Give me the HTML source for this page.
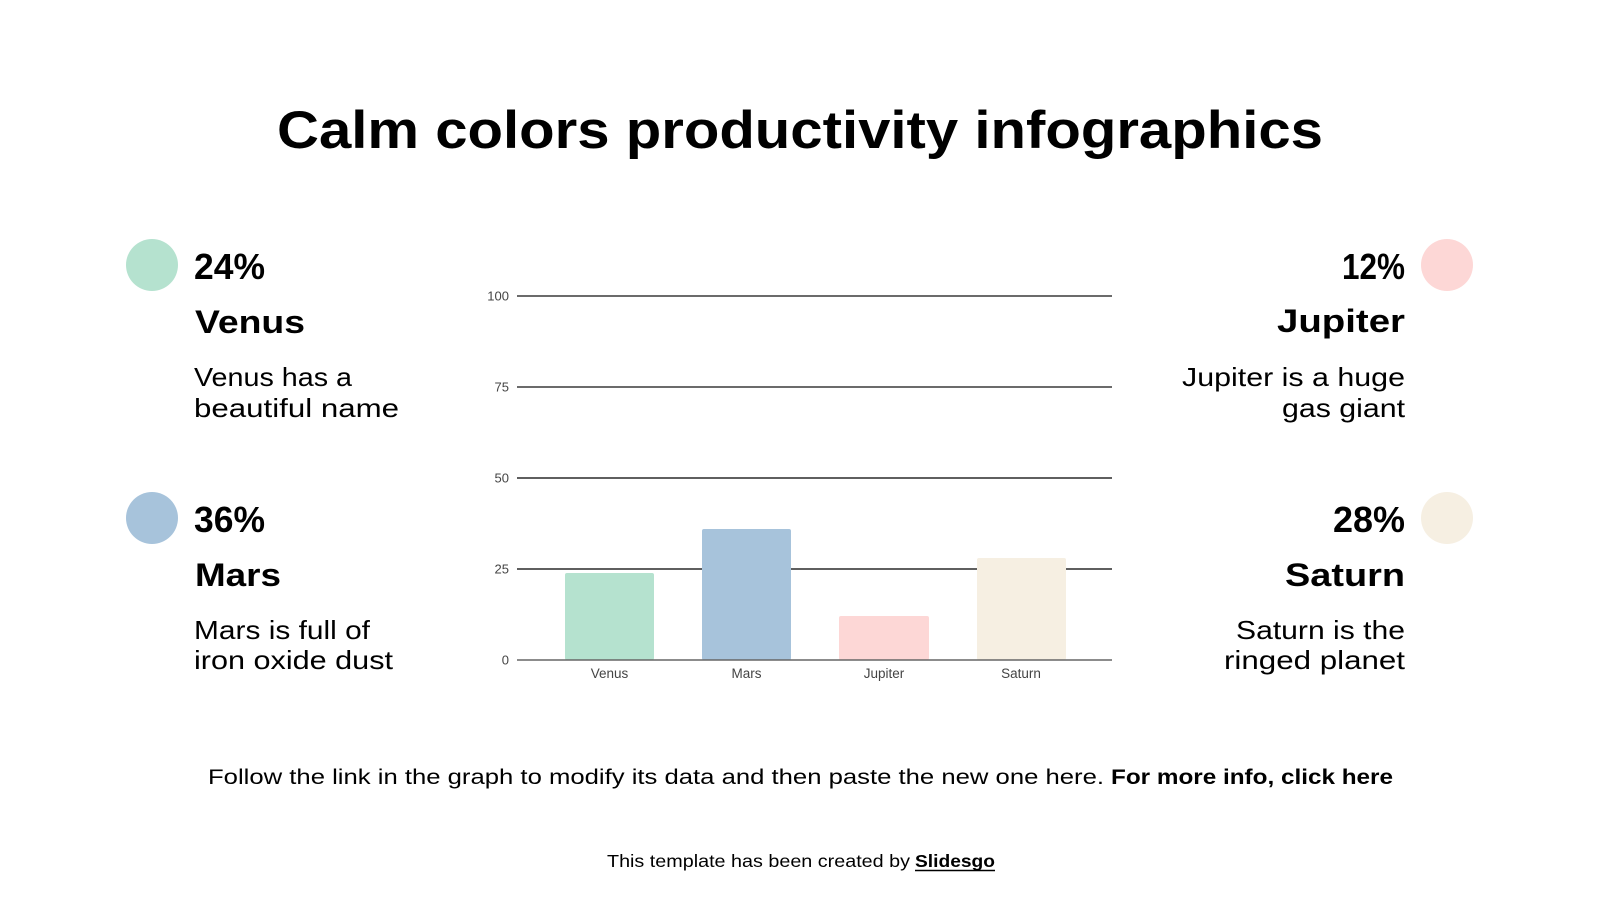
<!DOCTYPE html>
<html>
<head>
<meta charset="utf-8">
<style>
  html, body { margin: 0; padding: 0; background: #ffffff; }
  body { width: 1600px; height: 900px; overflow: hidden; }
  svg { display: block; }
  text { font-family: "Liberation Sans", "DejaVu Sans", sans-serif; }
</style>
</head>
<body>
<svg width="1600" height="900" viewBox="0 0 1600 900" xmlns="http://www.w3.org/2000/svg">
  <rect x="0" y="0" width="1600" height="900" fill="#ffffff"/>

  <!-- Title -->
  <text x="277" y="148" font-size="53" font-weight="bold" fill="#000" textLength="1046" lengthAdjust="spacingAndGlyphs">Calm colors productivity infographics</text>

  <!-- Left circles -->
  <circle cx="152" cy="265" r="26" fill="#b5e2cf"/>
  <circle cx="152" cy="518" r="26" fill="#a7c3db"/>
  <!-- Right circles -->
  <circle cx="1447" cy="265" r="26" fill="#fdd7d6"/>
  <circle cx="1447" cy="518" r="26" fill="#f6efe2"/>

  <!-- Venus block -->
  <text x="194" y="279" font-size="36" font-weight="bold" fill="#000" textLength="71" lengthAdjust="spacingAndGlyphs">24%</text>
  <text x="195" y="333" font-size="32" font-weight="bold" fill="#000" textLength="110" lengthAdjust="spacingAndGlyphs">Venus</text>
  <text x="194" y="386" font-size="26" fill="#000" textLength="158" lengthAdjust="spacingAndGlyphs">Venus has a</text>
  <text x="194" y="417" font-size="26" fill="#000" textLength="205" lengthAdjust="spacingAndGlyphs">beautiful name</text>

  <!-- Mars block -->
  <text x="194" y="532" font-size="36" font-weight="bold" fill="#000" textLength="71" lengthAdjust="spacingAndGlyphs">36%</text>
  <text x="195" y="586" font-size="32" font-weight="bold" fill="#000" textLength="86" lengthAdjust="spacingAndGlyphs">Mars</text>
  <text x="194" y="639" font-size="26" fill="#000" textLength="176" lengthAdjust="spacingAndGlyphs">Mars is full of</text>
  <text x="194" y="669" font-size="26" fill="#000" textLength="199" lengthAdjust="spacingAndGlyphs">iron oxide dust</text>

  <!-- Jupiter block -->
  <text x="1342" y="279" font-size="36" font-weight="bold" fill="#000" textLength="63" lengthAdjust="spacingAndGlyphs">12%</text>
  <text x="1277" y="332" font-size="32" font-weight="bold" fill="#000" textLength="128" lengthAdjust="spacingAndGlyphs">Jupiter</text>
  <text x="1182" y="386" font-size="26" fill="#000" textLength="223" lengthAdjust="spacingAndGlyphs">Jupiter is a huge</text>
  <text x="1282" y="417" font-size="26" fill="#000" textLength="123" lengthAdjust="spacingAndGlyphs">gas giant</text>

  <!-- Saturn block -->
  <text x="1333" y="532" font-size="36" font-weight="bold" fill="#000" textLength="72" lengthAdjust="spacingAndGlyphs">28%</text>
  <text x="1285" y="586" font-size="32" font-weight="bold" fill="#000" textLength="120" lengthAdjust="spacingAndGlyphs">Saturn</text>
  <text x="1236" y="639" font-size="26" fill="#000" textLength="169" lengthAdjust="spacingAndGlyphs">Saturn is the</text>
  <text x="1224" y="669" font-size="26" fill="#000" textLength="181" lengthAdjust="spacingAndGlyphs">ringed planet</text>

  <!-- Chart gridlines -->
  <line x1="517" y1="296" x2="1112" y2="296" stroke="#3a3a3a" stroke-width="1.5"/>
  <line x1="517" y1="387" x2="1112" y2="387" stroke="#3a3a3a" stroke-width="1.5"/>
  <line x1="517" y1="478" x2="1112" y2="478" stroke="#2a2a2a" stroke-width="1.5"/>
  <line x1="517" y1="569" x2="1112" y2="569" stroke="#2a2a2a" stroke-width="1.5"/>

  <!-- Y tick labels -->
  <g font-size="13" fill="#444" text-anchor="end">
    <text x="509" y="300.5">100</text>
    <text x="509" y="391.5">75</text>
    <text x="509" y="482.5">50</text>
    <text x="509" y="573.5">25</text>
    <text x="509" y="664.5">0</text>
  </g>

  <!-- Bars -->
  <rect x="565" y="573" width="89" height="87" rx="2" fill="#b5e2cf"/>
  <rect x="702" y="529" width="89" height="131" rx="2" fill="#a7c3db"/>
  <rect x="839" y="616" width="90" height="44" rx="2" fill="#fdd7d6"/>
  <rect x="977" y="558" width="89" height="102" rx="2" fill="#f6efe2"/>

  <!-- Baseline -->
  <line x1="517" y1="660" x2="1112" y2="660" stroke="#666" stroke-width="1.5"/>

  <!-- Category labels -->
  <g font-size="13.5" fill="#444" text-anchor="middle">
    <text x="609.5" y="678">Venus</text>
    <text x="746.5" y="678">Mars</text>
    <text x="884" y="678">Jupiter</text>
    <text x="1021" y="678">Saturn</text>
  </g>

  <!-- Footer -->
  <text x="208" y="784" font-size="21" fill="#000" textLength="896" lengthAdjust="spacingAndGlyphs">Follow the link in the graph to modify its data and then paste the new one here.</text>
  <text x="1111" y="784" font-size="21" font-weight="bold" fill="#000" textLength="282" lengthAdjust="spacingAndGlyphs">For more info, click here</text>

  <text x="607" y="867" font-size="17.5" fill="#000" textLength="303" lengthAdjust="spacingAndGlyphs">This template has been created by</text>
  <text x="915" y="867" font-size="17.5" font-weight="bold" fill="#000" textLength="80" lengthAdjust="spacingAndGlyphs">Slidesgo</text>
  <line x1="915" y1="870.5" x2="995" y2="870.5" stroke="#000" stroke-width="1.5"/>
</svg>
</body>
</html>
